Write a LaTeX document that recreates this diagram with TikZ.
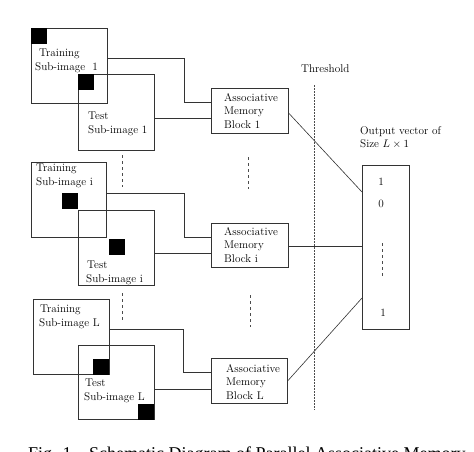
\documentclass[tikz,border=0pt]{standalone}
\usepackage{fontspec}
\newfontfamily\capfont{Liberation Serif}
\usetikzlibrary{calc}
\begin{document}
\begin{tikzpicture}[x=1pt,y=-1pt,
  box/.style={draw=black!80, line width=0.6pt, inner sep=0pt, anchor=north west},
  blk/.style={fill=black, inner sep=0pt, minimum size=15.5pt, anchor=north west},
  txt/.style={anchor=north west, inner sep=0pt, align=left,
              font=\fontsize{11.2}{13.5}\selectfont},
  conn/.style={draw=black!80, line width=0.6pt},
  ddash/.style={draw=black!70, line width=0.6pt, dash pattern=on 3pt off 3pt},
  thr/.style={draw=black!70, line width=0.6pt, dash pattern=on 1.5pt off 1.5pt}]
\useasboundingbox (0,0) rectangle (474,451);
\clip (0,0) rectangle (474,451);

% ---------- group 1 ----------
\node[box, minimum width=75.5pt, minimum height=75pt] (tr1) at (31,28) {};
\node[blk] (sq1a) at (31,28) {};
\node[box, minimum width=76pt, minimum height=76pt] (te1) at (78,74) {};
\node[blk] (sq1b) at (78,74) {};
\node[txt] (tr1t) at (35,49) {\hspace*{4pt}Training\\Sub-image~ 1};
\node[txt] (te1t) at (88,112) {Test\\Sub-image 1};
\node[box, minimum width=77pt, minimum height=45pt] (am1) at (211,88) {};
\node[txt] (am1t) at (224,93) {Associative\\Memory\\Block 1};

% ---------- group i ----------
\node[box, line width=1pt, minimum width=75pt, minimum height=75pt] (tri) at (31,162) {};
\node[blk] (sqia) at (62,193) {};
\node[box, minimum width=76pt, minimum height=75pt] (tei) at (78,210) {};
\node[blk] (sqib) at (109,239) {};
\node[txt] (trit) at (36,164) {Training\\Sub-image i};
\node[txt] (teit) at (87,261) {Test\\\hspace*{-1pt}Sub-image i};
\node[box, minimum width=77pt, minimum height=44pt] (ami) at (211,223) {};
\node[txt] (amit) at (224,227) {Associative\\Memory\\Block i};

% ---------- group L ----------
\node[box, minimum width=76pt, minimum height=75pt] (trL) at (33,299) {};
\node[box, minimum width=76pt, minimum height=74pt] (teL) at (78,345) {};
\node[blk] (sqLa) at (93,359) {};
\node[blk] (sqLb) at (138,404) {};
\node[txt] (trLt) at (40,305) {Training\\\hspace*{-1pt}Sub-image L};
\node[txt] (teLt) at (85,379) {Test\\\hspace*{-1pt}Sub-image L};
\node[box, minimum width=76pt, minimum height=45pt] (amL) at (211,358) {};
\node[txt] (amLt) at (226,364) {Associative\\Memory\\Block L};

% ---------- output ----------
\node[box, minimum width=47pt, minimum height=164pt] (out) at (362,165) {};
\node[txt] (outt) at (360,126) {Output vector of\\Size $L\times 1$};
\node[txt] (thrt) at (301,65) {Threshold};
\node[font=\fontsize{11.2}{13.5}\selectfont, inner sep=0pt] (o1) at (381,182) {1};
\node[font=\fontsize{11.2}{13.5}\selectfont, inner sep=0pt] (o2) at (381,204) {0};
\node[font=\fontsize{11.2}{13.5}\selectfont, inner sep=0pt] (o3) at (383,313) {1};

% ---------- connectors ----------
\draw[conn] (tr1.east |- 0,58) -| (184,102) -- (am1.west |- 0,102);
\draw[conn] (te1.east |- 0,118) -- (am1.west |- 0,118);
\draw[conn] (tri.east |- 0,193) -| (184,237) -- (ami.west |- 0,237);
\draw[conn] (tei.east |- 0,253) -- (ami.west |- 0,253);
\draw[conn] (trL.east |- 0,329) -| (183,372) -- (amL.west |- 0,372);
\draw[conn] (teL.east |- 0,389) -- (amL.west |- 0,389);

\draw[conn] (am1.east |- 0,113) -- (out.west |- 0,192);
\draw[conn] (ami.east |- 0,246) -- (out.west |- 0,246);
\draw[conn] (amL.east |- 0,381) -- (out.west |- 0,298);

% ---------- dashes / threshold ----------
\coordinate (d1a) at (122,155); \coordinate (d1b) at (122,187);
\coordinate (d2a) at (122,293); \coordinate (d2b) at (122,323);
\coordinate (d3a) at (248,157); \coordinate (d3b) at (248,189);
\coordinate (d4a) at (250,295); \coordinate (d4b) at (250,327);
\coordinate (d5a) at (382,243); \coordinate (d5b) at (382,276);
\draw[ddash] (d1a) -- (d1b);
\draw[ddash] (d2a) -- (d2b);
\draw[ddash] (d3a) -- (d3b);
\draw[ddash] (d4a) -- (d4b);
\draw[ddash] (d5a) -- (d5b);
\coordinate (th1) at (314,85); \coordinate (th2) at (314,410);
\draw[thr] (th1) -- (th2);

% ---------- caption (cut off at the bottom, as in the reference) ----------
\node[anchor=base west, inner sep=0pt, font=\capfont\fontsize{18}{20}\selectfont] (cap) at (28,459)
  {Fig. 1.\hspace{13pt}Schematic Diagram of Parallel Associative Memory};
\end{tikzpicture}
\end{document}
